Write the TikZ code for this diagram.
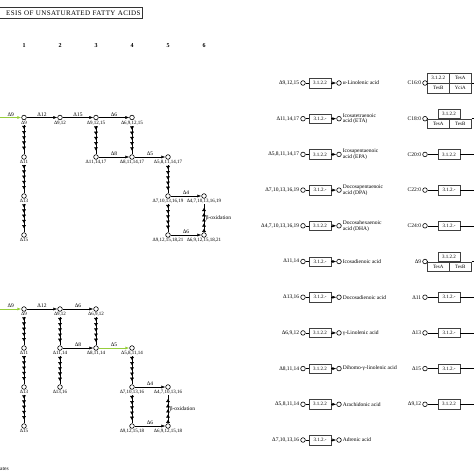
\documentclass[tikz,border=0pt]{standalone}
\usepackage{fontspec}
\setmainfont{Liberation Serif}
\usetikzlibrary{arrows.meta,decorations.markings}
\definecolor{newgreen}{RGB}{150,205,60}

\begin{document}
\begin{tikzpicture}[x=1pt, y=-1pt, line width=0.5pt, >={Latex[length=4pt,width=3pt]},
    font=\fontsize{5.5}{5.8}\selectfont,
    cpd/.style={draw, circle, inner sep=0pt, minimum size=4.6pt, line width=0.6pt},
    lab/.style 2 args={label={[inner sep=0.6pt, name=#1, font=\fontsize{5}{5}\selectfont]below:#2}},
    chain/.style={decoration={markings, mark=between positions 0.14 and 1 step 5.2pt with {\arrow{Latex[length=3.4pt,width=4.2pt]}}}, postaction={decorate}},
    ec/.style={draw=black!75, minimum width=22pt, minimum height=9.5pt, inner sep=0pt, font=\fontsize{5}{5}\selectfont},
    fresh/.style={draw=newgreen, line width=0.8pt}]
  \useasboundingbox (0,0) rectangle (474,474);

  % Title and column numbers
  \node[draw=black!80, line width=0.9pt, anchor=east, text width=146pt, align=right, minimum height=11pt, inner sep=2pt, font=\fontsize{7}{7}\selectfont\addfontfeature{LetterSpace=6}] (title) at (143,13) {ESIS OF UNSATURATED FATTY ACIDS};
  \node[font=\fontsize{6}{6}\selectfont\bfseries] (n1) at (24,46) {1};
  \node[font=\fontsize{6}{6}\selectfont\bfseries] (n2) at (60,46) {2};
  \node[font=\fontsize{6}{6}\selectfont\bfseries] (n3) at (96,46) {3};
  \node[font=\fontsize{6}{6}\selectfont\bfseries] (n4) at (132,46) {4};
  \node[font=\fontsize{6}{6}\selectfont\bfseries] (n5) at (168,46) {5};
  \node[font=\fontsize{6}{6}\selectfont\bfseries] (n6) at (204,46) {6};

  % Upper pathway: nodes
  \coordinate (in1) at (0,117.5);
  \node[cpd, lab={a1l}{Δ9}] (a1) at (24,117.5) {};
  \node[cpd, lab={a2l}{Δ9,12}] (a2) at (60,117.5) {};
  \node[cpd, lab={a3l}{Δ9,12,15}] (a3) at (96,117.5) {};
  \node[cpd, lab={a4l}{Δ6,9,12,15}] (a4) at (132,117.5) {};
  \node[cpd, lab={a5l}{Δ11}] (a5) at (24,157) {};
  \node[cpd, lab={a6l}{Δ13}] (a6) at (24,196) {};
  \node[cpd, lab={a7l}{Δ15}] (a7) at (24,235) {};
  \node[cpd, lab={a8l}{Δ11,14,17}] (a8) at (96,157) {};
  \node[cpd, lab={a9l}{Δ8,11,14,17}] (a9) at (132,157) {};
  \node[cpd, lab={a10l}{Δ5,8,11,14,17}] (a10) at (168,157) {};
  \node[cpd, lab={a11l}{Δ7,10,13,16,19}] (a11) at (168,196) {};
  \node[cpd, lab={a12l}{Δ4,7,10,13,16,19}] (a12) at (204,196) {};
  \node[cpd, lab={a13l}{Δ9,12,15,18,21}] (a13) at (168,235) {};
  \node[cpd, lab={a14l}{Δ6,9,12,15,18,21}] (a14) at (204,235) {};
  % Upper pathway: arrows
  \draw[->, fresh] (in1) -- node[above, inner sep=0.8pt, black] {Δ9} (a1);
  \draw[->] (a1) -- node[above, inner sep=0.8pt] {Δ12} (a2);
  \draw[->] (a2) -- node[above, inner sep=0.8pt] {Δ15} (a3);
  \draw[->] (a3) -- node[above, inner sep=0.8pt] {Δ6} (a4);
  \draw[->] (a8) -- node[above, inner sep=0.8pt] {Δ8} (a9);
  \draw[->] (a9) -- node[above, inner sep=0.8pt] {Δ5} (a10);
  \draw[->] (a11) -- node[above, inner sep=0.8pt] {Δ4} (a12);
  \draw[->] (a13) -- node[above, inner sep=0.8pt] {Δ6} (a14);
  \draw[chain] (a1l) -- (a5);
  \draw[chain] (a5l) -- (a6);
  \draw[chain] (a6l) -- (a7);
  \draw[chain] (a3l) -- (a8);
  \draw[chain] (a4l) -- (a9);
  \draw[chain] (a10l) -- (a11);
  \draw[chain] (a11l) -- (a13);
  \draw[chain] (a14) -- node[right, inner sep=1.5pt] {β-oxidation} (a12l);

  % Lower pathway: nodes
  \coordinate (in2) at (0,309);
  \node[cpd, lab={b1l}{Δ9}] (b1) at (24,309) {};
  \node[cpd, lab={b2l}{Δ9,12}] (b2) at (60,309) {};
  \node[cpd, lab={b3l}{Δ6,9,12}] (b3) at (96,309) {};
  \node[cpd, lab={b4l}{Δ11}] (b4) at (24,348) {};
  \node[cpd, lab={b5l}{Δ13}] (b5) at (24,387) {};
  \node[cpd, lab={b6l}{Δ15}] (b6) at (24,426) {};
  \node[cpd, lab={b7l}{Δ11,14}] (b7) at (60,348) {};
  \node[cpd, lab={b8l}{Δ13,16}] (b8) at (60,387) {};
  \node[cpd, lab={b9l}{Δ8,11,14}] (b9) at (96,348) {};
  \node[cpd, lab={b10l}{Δ5,8,11,14}] (b10) at (132,348) {};
  \node[cpd, lab={b11l}{Δ7,10,13,16}] (b11) at (132,387) {};
  \node[cpd, lab={b12l}{Δ4,7,10,13,16}] (b12) at (168,387) {};
  \node[cpd, lab={b13l}{Δ9,12,15,18}] (b13) at (132,426) {};
  \node[cpd, lab={b14l}{Δ6,9,12,15,18}] (b14) at (168,426) {};
  % Lower pathway: arrows
  \draw[->, fresh] (in2) -- node[above, inner sep=0.8pt, black] {Δ9} (b1);
  \draw[->] (b1) -- node[above, inner sep=0.8pt] {Δ12} (b2);
  \draw[->] (b2) -- node[above, inner sep=0.8pt] {Δ6} (b3);
  \draw[->] (b7) -- node[above, inner sep=0.8pt] {Δ8} (b9);
  \draw[->, fresh] (b9) -- node[above, inner sep=0.8pt, black] {Δ5} (b10);
  \draw[->] (b11) -- node[above, inner sep=0.8pt] {Δ4} (b12);
  \draw[->] (b13) -- node[above, inner sep=0.8pt] {Δ6} (b14);
  \draw[chain] (b1l) -- (b4);
  \draw[chain] (b4l) -- (b5);
  \draw[chain] (b5l) -- (b6);
  \draw[chain] (b2l) -- (b7);
  \draw[chain] (b7l) -- (b8);
  \draw[chain] (b3l) -- (b9);
  \draw[chain] (b10l) -- (b11);
  \draw[chain] (b11l) -- (b13);
  \draw[chain] (b14) -- node[right, inner sep=1.5pt] {β-oxidation} (b12l);
  \node[anchor=west, inner sep=0pt] (note) at (0,469) {ates};

  % Thioesterase steps: substrates
  \node[cpd, label={[inner sep=1pt]left:Δ9,12,15}] (s1) at (303,83) {};
  \node[cpd, label={[inner sep=1pt]left:Δ11,14,17}] (s2) at (303,118.7) {};
  \node[cpd, label={[inner sep=1pt]left:Δ5,8,11,14,17}] (s3) at (303,154.4) {};
  \node[cpd, label={[inner sep=1pt]left:Δ7,10,13,16,19}] (s4) at (303,190.1) {};
  \node[cpd, label={[inner sep=1pt]left:Δ4,7,10,13,16,19}] (s5) at (303,225.8) {};
  \node[cpd, label={[inner sep=1pt]left:Δ11,14}] (s6) at (303,261.5) {};
  \node[cpd, label={[inner sep=1pt]left:Δ13,16}] (s7) at (303,297.2) {};
  \node[cpd, label={[inner sep=1pt]left:Δ6,9,12}] (s8) at (303,332.9) {};
  \node[cpd, label={[inner sep=1pt]left:Δ8,11,14}] (s9) at (303,368.6) {};
  \node[cpd, label={[inner sep=1pt]left:Δ5,8,11,14}] (s10) at (303,404.3) {};
  \node[cpd, label={[inner sep=1pt]left:Δ7,10,13,16}] (s11) at (303,440) {};
  % enzymes
  \node[ec] (e1) at (320,83) {3.1.2.2};
  \node[ec] (e2) at (320,118.7) {3.1.2.-};
  \node[ec] (e3) at (320,154.4) {3.1.2.2};
  \node[ec] (e4) at (320,190.1) {3.1.2.-};
  \node[ec] (e5) at (320,225.8) {3.1.2.2};
  \node[ec] (e6) at (320,261.5) {3.1.2.-};
  \node[ec] (e7) at (320,297.2) {3.1.2.-};
  \node[ec] (e8) at (320,332.9) {3.1.2.2};
  \node[ec] (e9) at (320,368.6) {3.1.2.2};
  \node[ec] (e10) at (320,404.3) {3.1.2.2};
  \node[ec] (e11) at (320,440) {3.1.2.-};
  % free acids
  \node[cpd, label={[inner sep=1pt]right:α-Linolenic acid}] (p1) at (339,83) {};
  \node[cpd, label={[inner sep=1pt, align=left]right:Icosatetraenoic\\acid (ETA)}] (p2) at (339,118.7) {};
  \node[cpd, label={[inner sep=1pt, align=left]right:Icosapentaenoic\\acid (EPA)}] (p3) at (339,154.4) {};
  \node[cpd, label={[inner sep=1pt, align=left]right:Docosapentaenoic\\acid (DPA)}] (p4) at (339,190.1) {};
  \node[cpd, label={[inner sep=1pt, align=left]right:Docosahexaenoic\\acid (DHA)}] (p5) at (339,225.8) {};
  \node[cpd, label={[inner sep=1pt]right:Icosadienoic acid}] (p6) at (339,261.5) {};
  \node[cpd, label={[inner sep=1pt]right:Docosadienoic acid}] (p7) at (339,297.2) {};
  \node[cpd, label={[inner sep=1pt]right:γ-Linolenic acid}] (p8) at (339,332.9) {};
  \node[cpd, label={[inner sep=1pt]right:Dihomo-γ-linolenic acid}] (p9) at (339,368.6) {};
  \node[cpd, label={[inner sep=1pt]right:Arachidonic acid}] (p10) at (339,404.3) {};
  \node[cpd, label={[inner sep=1pt]right:Adrenic acid}] (p11) at (339,440) {};
  \draw (s1) -- (e1);   \draw[->] (e1) -- (p1);
  \draw (s2) -- (e2);   \draw[->] (e2) -- (p2);
  \draw (s3) -- (e3);   \draw[->] (e3) -- (p3);
  \draw (s4) -- (e4);   \draw[->] (e4) -- (p4);
  \draw (s5) -- (e5);   \draw[->] (e5) -- (p5);
  \draw (s6) -- (e6);   \draw[->] (e6) -- (p6);
  \draw (s7) -- (e7);   \draw[->] (e7) -- (p7);
  \draw (s8) -- (e8);   \draw[->] (e8) -- (p8);
  \draw (s9) -- (e9);   \draw[->] (e9) -- (p9);
  \draw (s10) -- (e10); \draw[->] (e10) -- (p10);
  \draw (s11) -- (e11); \draw[->] (e11) -- (p11);

  % Acyl-CoA column on the right
  \node[cpd, label={[inner sep=1pt]left:{C16:0}}] (c1) at (425,83) {};
  \node[cpd, label={[inner sep=1pt]left:{C18:0}}] (c2) at (425,118.7) {};
  \node[cpd, label={[inner sep=1pt]left:{C20:0}}] (c3) at (425,154.4) {};
  \node[cpd, label={[inner sep=1pt]left:{C22:0}}] (c4) at (425,190.1) {};
  \node[cpd, label={[inner sep=1pt]left:{C24:0}}] (c5) at (425,225.8) {};
  \node[cpd, label={[inner sep=1pt]left:Δ9}] (c6) at (425,261.5) {};
  \node[cpd, label={[inner sep=1pt]left:Δ11}] (c7) at (425,297.2) {};
  \node[cpd, label={[inner sep=1pt]left:Δ13}] (c8) at (425,332.9) {};
  \node[cpd, label={[inner sep=1pt]left:Δ15}] (c9) at (425,368.6) {};
  \node[cpd, label={[inner sep=1pt]left:{Δ9,12}}] (c10) at (425,404.3) {};
  % C16:0
  \node[ec, anchor=south west] (t1a) at (427,83) {3.1.2.2};
  \node[ec, anchor=south west] (t1b) at (449,83) {TesA};
  \node[ec, anchor=north west] (t1c) at (427,83) {TesB};
  \node[ec, anchor=north west] (t1d) at (449,83) {YciA};
  \coordinate (r1) at (474,83);
  \draw (c1) -- (t1a.south west);
  \draw (t1b.south east) -- (r1);
  % C18:0
  \node[ec, anchor=south] (t2a) at (449,118.7) {3.1.2.2};
  \node[ec, anchor=north west] (t2b) at (427,118.7) {TesA};
  \node[ec, anchor=north west] (t2c) at (449,118.7) {TesB};
  \coordinate (r2) at (474,118.7);
  \draw (c2) -- (t2b.north west);
  \draw (t2c.north east) -- (r2);
  % Delta9
  \node[ec, anchor=south] (t6a) at (449,261.5) {3.1.2.2};
  \node[ec, anchor=north west] (t6b) at (427,261.5) {TesA};
  \node[ec, anchor=north west] (t6c) at (449,261.5) {TesB};
  \coordinate (r6) at (474,261.5);
  \draw (c6) -- (t6b.north west);
  \draw (t6c.north east) -- (r6);
  % single enzymes
  \node[ec] (t3) at (449,154.4) {3.1.2.2};
  \node[ec] (t4) at (449,190.1) {3.1.2.-};
  \node[ec] (t5) at (449,225.8) {3.1.2.-};
  \node[ec] (t7) at (449,297.2) {3.1.2.-};
  \node[ec] (t8) at (449,332.9) {3.1.2.-};
  \node[ec] (t9) at (449,368.6) {3.1.2.-};
  \node[ec] (t10) at (449,404.3) {3.1.2.2};
  \coordinate (r3) at (474,154.4);
  \coordinate (r4) at (474,190.1);
  \coordinate (r5) at (474,225.8);
  \coordinate (r7) at (474,297.2);
  \coordinate (r8) at (474,332.9);
  \coordinate (r9) at (474,368.6);
  \coordinate (r10) at (474,404.3);
  \draw (c3) -- (t3) -- (r3);
  \draw (c4) -- (t4) -- (r4);
  \draw (c5) -- (t5) -- (r5);
  \draw (c7) -- (t7) -- (r7);
  \draw (c8) -- (t8) -- (r8);
  \draw (c9) -- (t9) -- (r9);
  \draw (c10) -- (t10) -- (r10);
\end{tikzpicture}
\end{document}
